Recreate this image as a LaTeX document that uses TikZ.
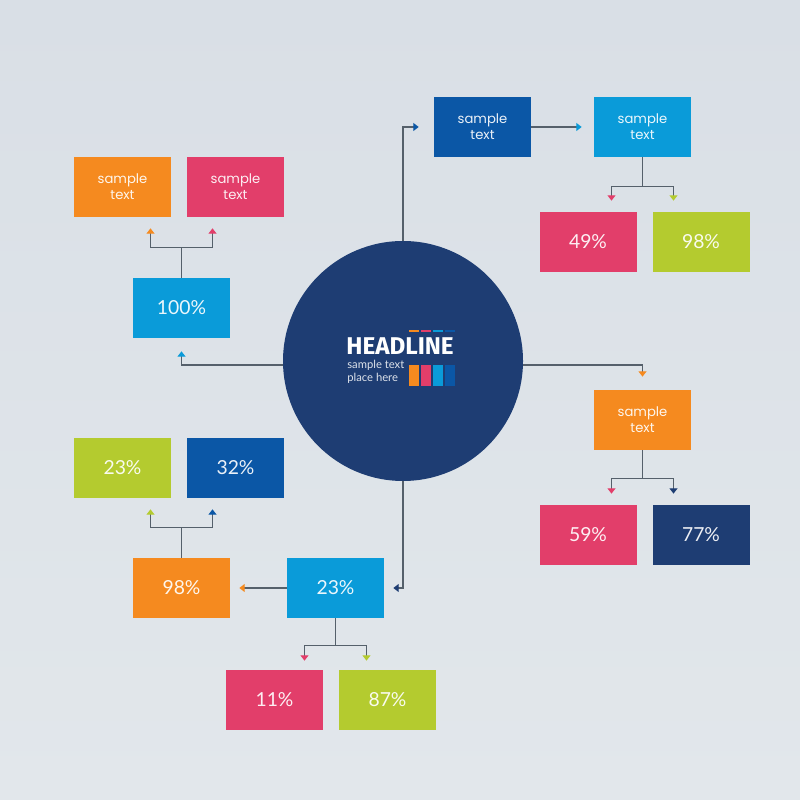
\documentclass[tikz,border=0pt]{standalone}
\usepackage{fontspec}
\setmainfont{Lato}
\newfontfamily\roundfont{Poppins}
\newfontfamily\headfont{Fira Sans}
\usetikzlibrary{arrows.meta}

\definecolor{navy}{HTML}{1E3D73}
\definecolor{darkblue}{HTML}{0B57A6}
\definecolor{lightblue}{HTML}{0A9BD9}
\definecolor{pink}{HTML}{E23E6A}
\definecolor{green}{HTML}{B4CB2F}
\definecolor{orange}{HTML}{F58A1F}
\definecolor{linegray}{HTML}{55606B}
\definecolor{bgtop}{HTML}{D9DFE6}
\definecolor{bgmid}{HTML}{F1F3F5}
\definecolor{bgbot}{HTML}{E2E7EB}

\tikzset{
    cell/.style={fill=#1, minimum width=1.94cm, minimum height=1.2cm, inner sep=0pt,
        text=white!92!#1, font=\fontsize{11}{12}\selectfont},
    txtcell/.style={cell=#1, align=center, font=\roundfont\fontsize{7.5}{9}\selectfont},
    link/.style={draw=linegray, line width=0.6pt},
    arr/.style={link, -{Triangle[length=3pt,width=4.5pt,color=#1]}},
}

\begin{document}
\begin{tikzpicture}
    \useasboundingbox (0,0) rectangle (16,16);
    \shade[top color=bgtop, middle color=bgmid, bottom color=bgbot] (0,0) rectangle (16,16);

    % centre
    \node[circle, fill=navy, minimum size=4.8cm, inner sep=0pt] (hub) at (8.06,8.78) {};
    \node[anchor=west, inner sep=0pt, text=white, font=\headfont\bfseries\fontsize{13.8}{14}\selectfont] (title) at (6.92,9.08) {HEADLINE};
    \node[anchor=north west, align=left, inner sep=0pt, text=white!85!navy, font=\fontsize{6.4}{7.4}\selectfont] (sub) at (6.94,8.8) {sample text\\place here};
    \foreach \c [count=\i] in {orange,pink,lightblue,darkblue} {
        \fill[\c] (8.18+0.24*\i-0.24,8.28) rectangle ++(0.19,0.42);
        \fill[\c] (8.18+0.24*\i-0.24,9.36) rectangle ++(0.19,0.04);
    }

    % boxes
    \node[txtcell=darkblue] (A) at (9.65,13.46) {sample\\text};
    \node[txtcell=lightblue] (B) at (12.85,13.46) {sample\\text};
    \node[cell=pink] (C) at (11.76,11.16) {49\%};
    \node[cell=green] (D) at (14.02,11.16) {98\%};
    \node[txtcell=orange] (E) at (2.45,12.26) {sample\\text};
    \node[txtcell=pink] (F) at (4.71,12.26) {sample\\text};
    \node[cell=lightblue] (G) at (3.63,9.84) {100\%};
    \node[txtcell=orange] (H) at (12.85,7.6) {sample\\text};
    \node[cell=pink] (I) at (11.76,5.3) {59\%};
    \node[cell=navy] (J) at (14.02,5.3) {77\%};
    \node[cell=green] (K) at (2.45,6.64) {23\%};
    \node[cell=darkblue] (L) at (4.71,6.64) {32\%};
    \node[cell=orange] (M) at (3.63,4.24) {98\%};
    \node[cell=lightblue] (N) at (6.71,4.24) {23\%};
    \node[cell=pink] (O) at (5.49,2.0) {11\%};
    \node[cell=green] (P) at (7.75,2.0) {87\%};

    % top branch
    \draw[arr=darkblue] (hub.north) |- ([xshift=-0.3cm]A.west);
    \draw[arr=lightblue] (A.east) -- ([xshift=-0.24cm]B.west);
    \draw[link] (B.south) -- ++(0,-0.58) coordinate (bj);
    \draw[arr=pink] (bj) -| ([xshift=-0.62cm,yshift=0.22cm]bj |- C.north);
    \draw[arr=green] (bj) -| ([xshift=0.62cm,yshift=0.22cm]bj |- D.north);

    % right branch
    \draw[arr=orange] ([yshift=-0.08cm]hub.east) -| ([yshift=0.26cm]H.north);
    \draw[link] (H.south) -- ++(0,-0.56) coordinate (hj);
    \draw[arr=pink] (hj) -| ([xshift=-0.62cm,yshift=0.22cm]hj |- I.north);
    \draw[arr=navy] (hj) -| ([xshift=0.62cm,yshift=0.22cm]hj |- J.north);

    % left branch
    \draw[arr=lightblue] ([yshift=-0.08cm]hub.west) -| ([yshift=-0.26cm]G.south);
    \draw[link] (G.north) -- ++(0,0.6) coordinate (gj);
    \draw[arr=orange] (gj) -| ([xshift=-0.62cm,yshift=-0.22cm]gj |- E.south);
    \draw[arr=pink] (gj) -| ([xshift=0.62cm,yshift=-0.22cm]gj |- F.south);

    % bottom branch
    \draw[arr=navy] (hub.south) |- ([xshift=0.18cm]N.east);
    \draw[arr=orange] (N.west) -- ([xshift=0.18cm]M.east);
    \draw[link] (M.north) -- ++(0,0.6) coordinate (mj);
    \draw[arr=green] (mj) -| ([xshift=-0.62cm,yshift=-0.22cm]mj |- K.south);
    \draw[arr=darkblue] (mj) -| ([xshift=0.62cm,yshift=-0.22cm]mj |- L.south);
    \draw[link] (N.south) -- ++(0,-0.54) coordinate (nj);
    \draw[arr=pink] (nj) -| ([xshift=-0.62cm,yshift=0.18cm]nj |- O.north);
    \draw[arr=green] (nj) -| ([xshift=0.62cm,yshift=0.18cm]nj |- P.north);
\end{tikzpicture}
\end{document}
